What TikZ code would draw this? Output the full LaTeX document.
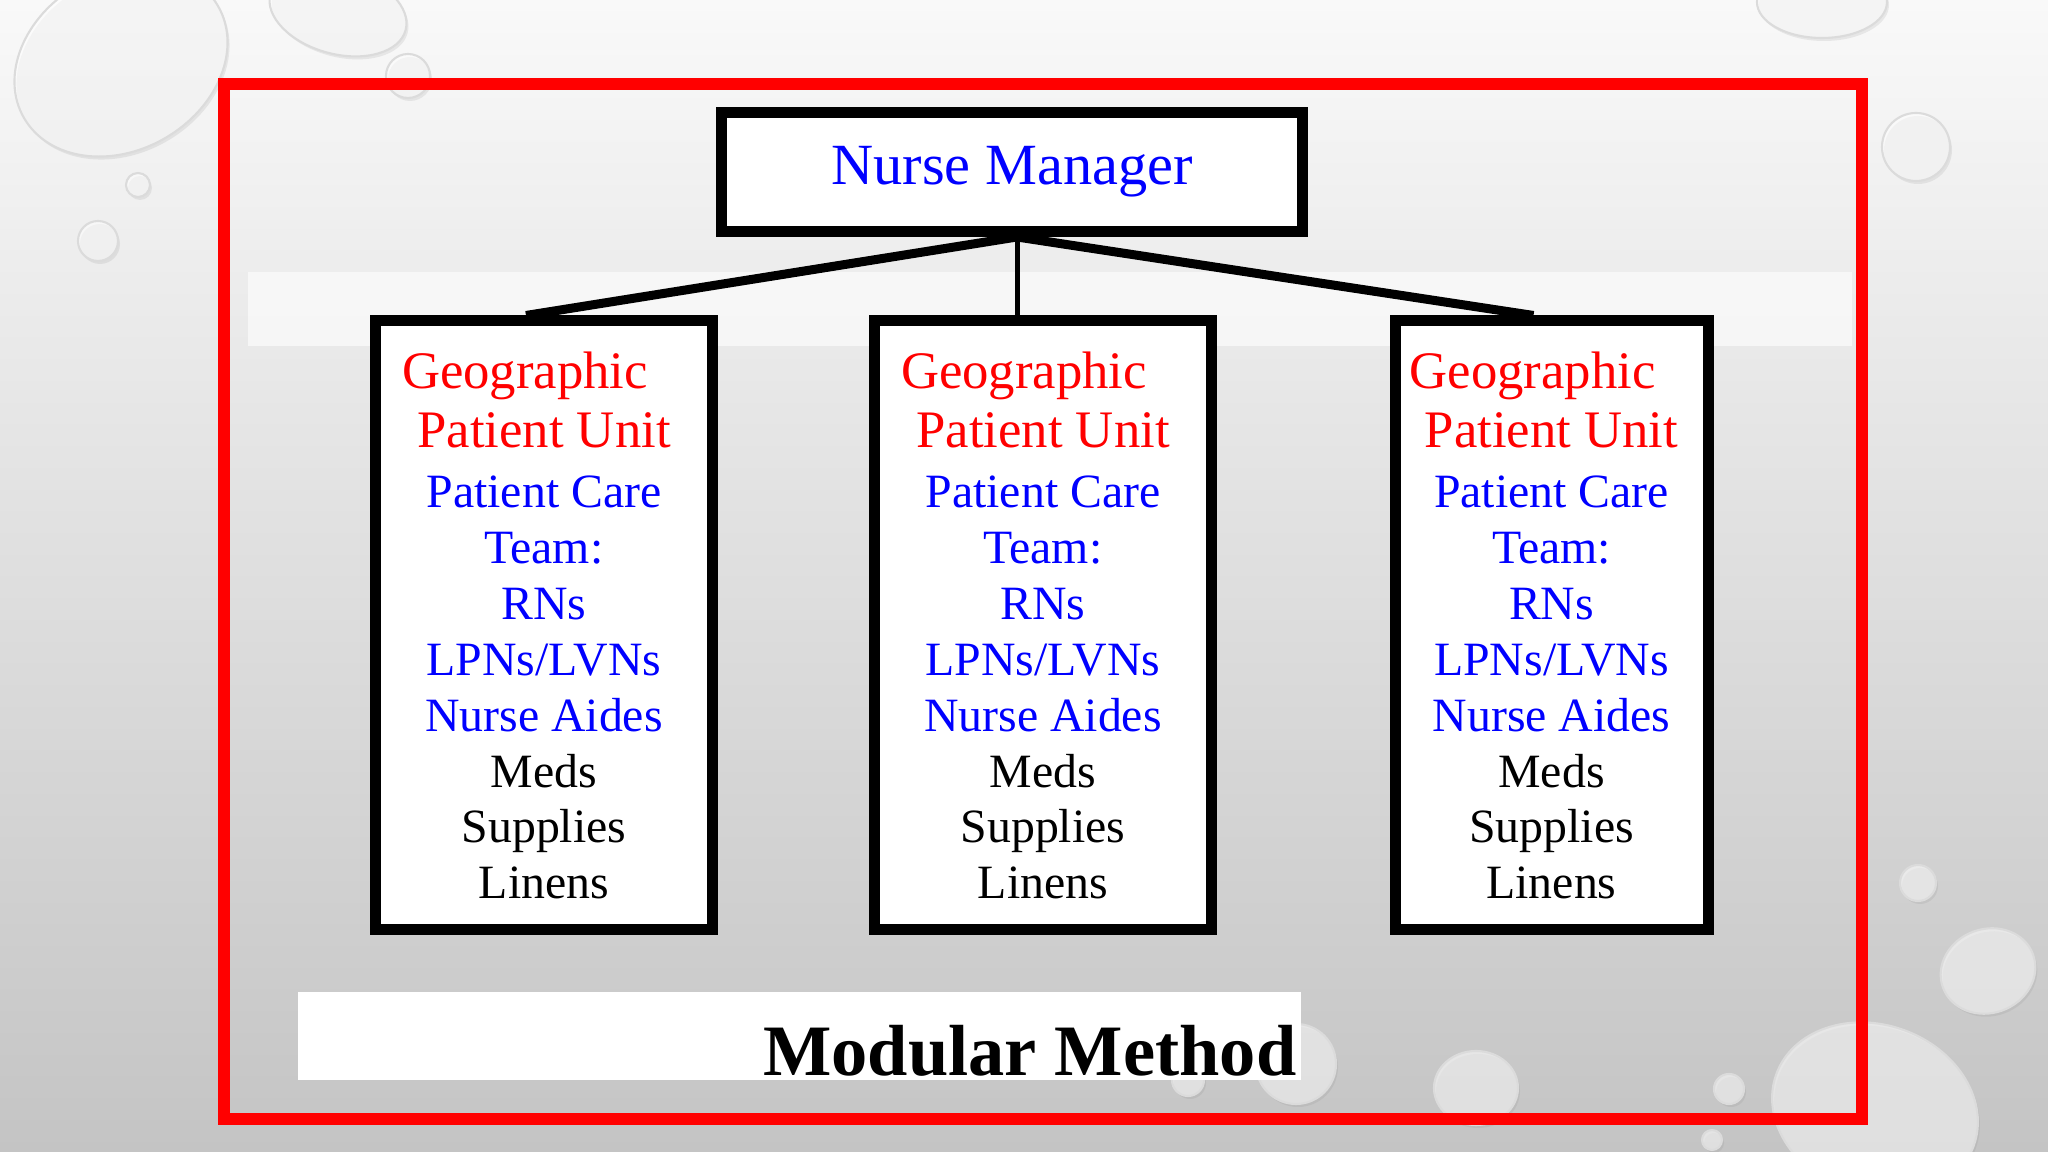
\documentclass[tikz,border=0pt]{standalone}
\usepackage{fontspec}
\setmainfont{Liberation Serif}
\usetikzlibrary{shadows}

\definecolor{bgtop}{RGB}{249,249,249}
\definecolor{bgmid}{RGB}{232,232,232}
\definecolor{bgbot}{RGB}{196,196,196}
\definecolor{framered}{RGB}{255,0,0}
\definecolor{txtblue}{RGB}{0,0,255}

% text of one patient unit box
\newcommand{\unittext}{%
  {\color{framered}\fontsize{15}{15.9}\selectfont Geographic\kern0.38cm}\\[1.1pt]
  {\color{framered}\fontsize{15}{15.9}\selectfont Patient Unit}\\[1.1pt]
  {\color{txtblue}Patient Care}\\
  {\color{txtblue}Team:}\\
  {\color{txtblue}RNs}\\
  {\color{txtblue}LPNs/LVNs}\\
  {\color{txtblue}Nurse Aides}\\
  Meds\\
  Supplies\\
  Linens}

\begin{document}
\begin{tikzpicture}[
    every node/.style={inner sep=0pt},
    boxnode/.style={draw=black, fill=white, line width=0.11cm, rectangle},
    unitbox/.style={boxnode, minimum width=3.37cm, minimum height=6.09cm,
        align=center, font=\fontsize{13.6}{15.9}\selectfont},
    link/.style={line width=0.09cm, black},
    drop/.style={fill=white, fill opacity=0.55, draw=gray!28, line width=0.6pt,
        drop shadow={opacity=0.14, shadow xshift=0.02cm, shadow yshift=-0.03cm}}
]
    \useasboundingbox (0,0) rectangle (20.48,11.52);

    % Background
    \shade[top color=bgtop, middle color=bgmid, bottom color=bgbot] (0,0) rectangle (20.48,11.52);

    % Drops
    \path[drop, rotate around={30:(1.21,10.90)}] (1.21,10.90) ellipse (1.12cm and 0.88cm);
    \path[drop, rotate around={-15:(3.38,11.40)}] (3.38,11.40) ellipse (0.70cm and 0.42cm);
    \path[drop] (4.08,10.76) circle (0.22cm);
    \path[drop] (1.38,9.67) circle (0.12cm);
    \path[drop] (0.98,9.11) circle (0.20cm);
    \path[drop] (18.22,11.50) ellipse (0.65cm and 0.36cm);
    \path[drop] (19.16,10.05) circle (0.34cm);
    \path[drop] (19.18,2.69) circle (0.18cm);
    \path[drop, rotate around={20:(19.88,1.81)}] (19.88,1.81) ellipse (0.48cm and 0.42cm);
    \path[drop, rotate around={-20:(18.75,0.42)}] (18.75,0.42) ellipse (1.05cm and 0.85cm);
    \path[drop] (12.96,0.88) circle (0.40cm);
    \path[drop] (11.88,0.72) circle (0.16cm);
    \path[drop] (14.76,0.64) ellipse (0.42cm and 0.37cm);
    \path[drop] (17.29,0.63) circle (0.15cm);
    \path[drop] (17.12,0.12) circle (0.10cm);

    % Frame
    \fill[white, opacity=0.6] (2.48,8.80) rectangle (18.52,8.06);
    \draw[framered, line width=0.115cm] (2.24,10.68) rectangle (18.62,0.33);

    % Nodes (Boxes)
    \node[boxnode, minimum width=5.815cm, minimum height=1.19cm,
        font=\fontsize{16.6}{20}\selectfont, text=txtblue] (mgr) at (10.12,9.80) {Nurse Manager};

    \node[unitbox] (unit_a) at (5.44,5.265) {\unittext};
    \node[unitbox] (unit_b) at (10.43,5.265) {\unittext};
    \node[unitbox, minimum width=3.13cm] (unit_c) at (15.515,5.265) {\unittext};

    % Edges
    \draw[link] ([xshift=0.05cm]mgr.south) -- ([xshift=-0.18cm]unit_a.north);
    \draw[black, line width=0.05cm] ([xshift=0.05cm]mgr.south) -- ([xshift=0.05cm]mgr.south |- unit_b.north);
    \draw[link] ([xshift=0.05cm]mgr.south) -- ([xshift=-0.18cm]unit_c.north);

    % Title
    \fill[white] (2.98,1.60) rectangle (13.01,0.72);
    \node[anchor=base east, font=\bfseries\fontsize{20.6}{24}\selectfont] (title) at (12.97,0.76) {Modular Method};

\end{tikzpicture}
\end{document}
